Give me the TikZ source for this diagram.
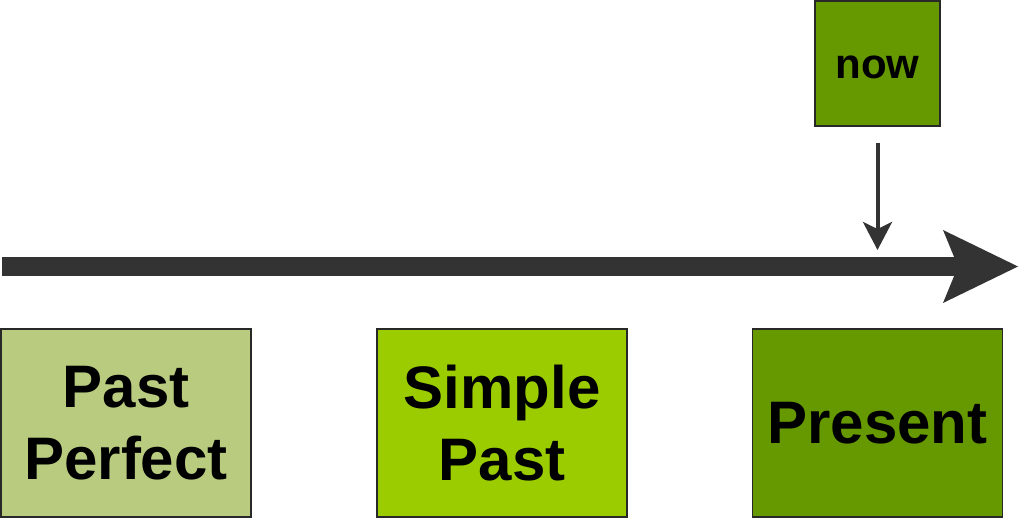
\documentclass[tikz,border=0pt]{standalone}
\usepackage{fontspec}
\setmainfont{Liberation Sans}
\usetikzlibrary{arrows.meta}
\definecolor{pastperf}{RGB}{185,203,127}
\definecolor{simplepast}{RGB}{154,204,0}
\definecolor{presentc}{RGB}{102,153,0}
\definecolor{edgec}{RGB}{40,40,40}
\definecolor{arrowc}{RGB}{51,51,51}
\tikzset{
  tensebox/.style={draw=edgec, line width=1.5pt, minimum width=250pt, minimum height=188pt,
    inner sep=0pt, align=center, font=\fontsize{60}{72}\selectfont\bfseries, text=black},
  nowbox/.style={draw=edgec, line width=1.5pt, fill=presentc, minimum width=125pt, minimum height=125pt,
    inner sep=0pt, font=\fontsize{42}{50}\selectfont\bfseries, text=black},
  shaft/.style={draw=arrowc, line width=19pt},
  pointer/.style={draw=arrowc, line width=4pt, -{Stealth[length=28pt,width=29pt,inset=7pt]}}
}
\begin{document}
\begin{tikzpicture}[x=1pt,y=-1pt]
\useasboundingbox (0,0) rectangle (1020,518);
% boxes
\node[tensebox, fill=pastperf] (pp) at (126,423) {Past\\Perfect};
\node[tensebox, fill=simplepast] (sp) at (502,423) {Simple\\Past};
\node[tensebox, fill=presentc] (pr) at (877.5,423) {Present};
\node[nowbox] (now) at (877.5,63.5) {\raisebox{-15.5pt}[0pt][0pt]{now}};
% timeline
\coordinate (tstart) at (2,266.5);
\coordinate (tnotch) at (958,266.5);
\coordinate (ttip) at (1018,266.5);
\coordinate (tup) at (943,230);
\coordinate (tdown) at (943,303);
\draw[shaft] (tstart) -- (tnotch);
\fill[arrowc] (tup) -- (ttip) -- (tdown) -- (tnotch) -- cycle;
% pointer
\coordinate (nowtip) at (877.5,250);
\draw[pointer] ([yshift=-16pt]now.south) -- (nowtip);
\end{tikzpicture}
\end{document}
